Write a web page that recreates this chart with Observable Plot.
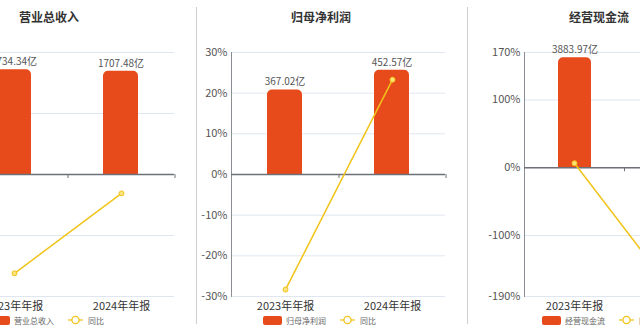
<!DOCTYPE html>
<html><head><meta charset="utf-8">
<script src="https://cdn.jsdelivr.net/npm/d3@7"></script>
<script src="https://cdn.jsdelivr.net/npm/@observablehq/plot@0.6"></script>
<style>
body{margin:0;background:#fff;}
#root{position:relative;width:640px;height:330px;overflow:hidden;background:#fff;font-family:"Noto Sans CJK SC","Noto Sans",sans-serif;}
.panel{position:absolute;top:0;width:271px;height:330px;}
.panel > svg{position:absolute;left:0;top:0;}
.title{position:absolute;top:8px;font-size:12px;font-weight:bold;color:#333;transform:translateX(-50%);white-space:nowrap;line-height:18px;}
.legend{position:absolute;top:314px;height:12px;font-size:8px;color:#666;display:flex;align-items:center;white-space:nowrap;}
.sw{display:inline-block;width:19px;height:9px;border-radius:2px;margin-right:4px;}
.legend svg.ln{margin:0 5px 0 14px;}
.sep{position:absolute;top:7px;width:1px;height:317px;background:#cfcfcf;}
</style></head><body><div id="root"></div>
<script>
// ---- data ----
const periods = ["2023年年报", "2024年年报"];
const revenue = [1734.34, 1707.48];          // 营业总收入 (亿)
const revenueYoY = [-8.1, -1.55];             // 同比 (%)
const netProfit = [367.02, 452.57];           // 归母净利润 (亿)
const netProfitYoY = [-28.3, 23.31];          // 同比 (%)
const opCashFlow = [3883.97, -3332.4];        // 经营现金流 (亿), 2024 off-view estimate
const opCashFlowYoY = [6.6, -185.8];          // 同比 (%)
const revenueTicks = [-10, -5, 0, 5, 10];
const netProfitTicks = [-30, -20, -10, 0, 10, 20, 30];
const cashTicks = [-190, -100, 0, 100, 170];

const BAR = "#e84b1b", LINE = "#f0c419";
const FONT = '"Noto Sans CJK SC","Noto Sans",sans-serif';
const root = document.getElementById("root");

function panel(cfg) {
  const W = 271, H = 330, mt = 52, mb = 34;
  const mr = W - cfg.marginLeft - cfg.plotWidth;
  const rows = periods.map((p, i) => ({period: p, value: cfg.bars[i], yoy: cfg.yoy[i]}));
  const base = {
    width: W, height: H, marginTop: mt, marginBottom: mb, marginLeft: cfg.marginLeft, marginRight: mr,
    style: {fontSize: "11px", fontFamily: FONT, color: "#555", background: "transparent", overflow: "visible"},
    x: {domain: periods, paddingInner: 0.67, paddingOuter: 0.335, label: null, axis: null}
  };
  const div = document.createElement("div");
  div.className = "panel";
  div.style.left = cfg.left + "px";

  // layer 1: grid + axes (percent scale)
  const g = Plot.plot({
    ...base,
    y: {domain: cfg.pctDomain, label: null, axis: null},
    marks: [
      Plot.gridY(cfg.pctTicks, {stroke: "#e0e6f1", strokeOpacity: 1}),
      cfg.showY ? Plot.axisY(cfg.pctTicks, {tickFormat: d => d + "%", tickSize: 0, tickPadding: 4, label: null, fill: "#555"}) : null,
      Plot.axisX({tickSize: 0, tickPadding: 6, label: null, fill: "#333", fontSize: 11}),
      Plot.frame({anchor: "left", stroke: "#8a8d94"})
    ]
  });
  // layer 2: bars (secondary scale in 亿)
  const b = Plot.plot({
    ...base,
    y: {domain: cfg.barDomain, label: null, axis: null},
    marks: [
      Plot.barY(rows, {x: "period", y: "value", fill: BAR, ry1: 5}),
      Plot.text(rows.filter(d => d.value >= 0), {x: "period", y: "value", text: d => d.value.toFixed(2) + "亿", dy: -8, fontSize: 10, fill: "#555"}),
      Plot.text(rows.filter(d => d.value < 0), {x: "period", y: "value", text: d => d.value.toFixed(2) + "亿", dy: 8, fontSize: 10, fill: "#555"})
    ]
  });
  // layer 3: zero line + yoy line
  const step = cfg.plotWidth / periods.length;
  const l = Plot.plot({
    ...base,
    y: {domain: cfg.pctDomain, label: null, axis: null},
    marks: [
      Plot.ruleY([0], {stroke: "#6e7079", strokeWidth: 1.5}),
      Plot.ruleX(periods, {x: d => d, dx: step / 2, y1: 0, y2: 0, insetBottom: -4, stroke: "#6e7079"}),
      Plot.line(rows, {x: "period", y: "yoy", stroke: LINE, strokeWidth: 1.5}),
      Plot.dot(rows, {x: "period", y: "yoy", r: 2.5, fill: "#fbe27a", stroke: LINE, strokeWidth: 1})
    ]
  });
  div.append(g, b, l);

  const t = document.createElement("div");
  t.className = "title";
  t.style.left = cfg.titleX + "px";
  t.textContent = cfg.title;
  div.append(t);

  const lg = document.createElement("div");
  lg.className = "legend";
  lg.style.left = cfg.legendX + "px";
  lg.innerHTML = `<span class="sw" style="background:${BAR}"></span><span>${cfg.title}</span>` +
    `<svg class="ln" width="15" height="10"><line x1="0" x2="15" y1="5" y2="5" stroke="${LINE}" stroke-width="1.3"/>` +
    `<circle cx="7.5" cy="5" r="3.6" fill="#fff" stroke="${LINE}" stroke-width="1.3"/></svg><span>同比</span>`;
  div.append(lg);
  root.append(div);
}

panel({left: -75, title: "营业总收入", titleX: 124, legendX: 66, bars: revenue, yoy: revenueYoY, showY: false,
  barDomain: [-2020, 2020], pctDomain: [-10, 10], pctTicks: revenueTicks, marginLeft: 35, plotWidth: 214});
panel({left: 196, title: "归母净利润", titleX: 125, legendX: 67, bars: netProfit, yoy: netProfitYoY, showY: true,
  barDomain: [-530, 530], pctDomain: [-30, 30], pctTicks: netProfitTicks, marginLeft: 35, plotWidth: 214});
panel({left: 467, title: "经营现金流", titleX: 132, legendX: 75, bars: opCashFlow, yoy: opCashFlowYoY, showY: true,
  barDomain: [-4552, 4071], pctDomain: [-190, 170], pctTicks: cashTicks, marginLeft: 57, plotWidth: 200});

for (const x of [196, 467]) {
  const s = document.createElement("div");
  s.className = "sep";
  s.style.left = (x - 0.5) + "px";
  root.append(s);
}
</script>
</body></html>
